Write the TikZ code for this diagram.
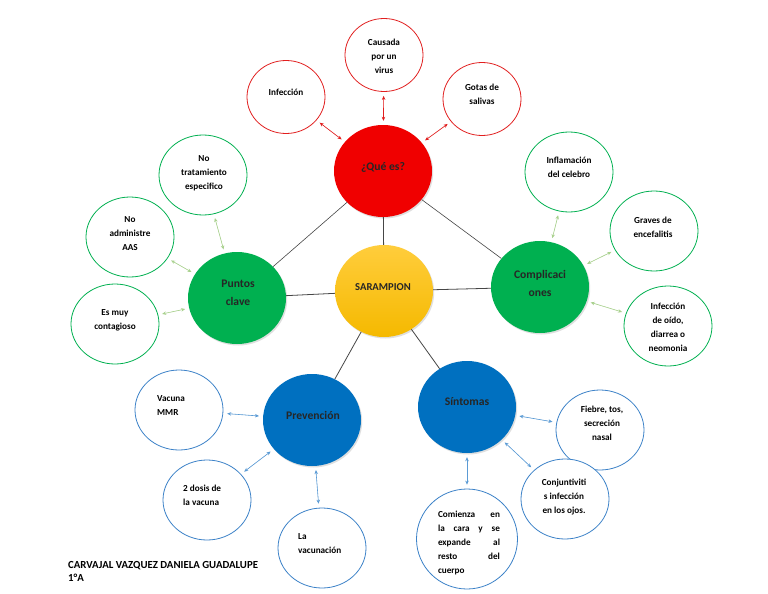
\documentclass[tikz,border=0pt]{standalone}
\usepackage{fontspec}
\setmainfont{Carlito}
\usetikzlibrary{shapes.geometric,arrows.meta,shadows}
\definecolor{qred}{RGB}{240,0,0}
\definecolor{qgreen}{RGB}{0,176,80}
\definecolor{qblue}{RGB}{0,112,192}
\definecolor{sblue}{RGB}{60,130,200}
\definecolor{ablue}{RGB}{91,155,213}
\definecolor{agreen}{RGB}{169,209,142}
\definecolor{sred}{RGB}{225,30,30}
\definecolor{yel1}{RGB}{255,205,60}
\definecolor{yel2}{RGB}{245,185,0}
\definecolor{linkgray}{RGB}{70,70,70}
\begin{document}
\begin{tikzpicture}[x=1pt,y=-1pt,
  main/.style={ellipse,minimum width=98pt,minimum height=92pt,inner sep=0pt,draw=none,
    drop shadow={opacity=0.25,shadow xshift=1.2pt,shadow yshift=-1.5pt}},
  sat/.style={ellipse,minimum width=88pt,minimum height=80pt,inner sep=0pt,fill=white,line width=0.8pt},
  redsat/.style={sat,draw=sred,minimum width=78pt,minimum height=73pt},
  greensat/.style={sat,draw=qgreen},
  bluesat/.style={sat,draw=sblue},
  maintext/.style={font=\bfseries\fontsize{11.6}{18}\selectfont,text=black!85,align=center,inner sep=0pt},
  sattext/.style={font=\bfseries\fontsize{9.2}{14}\selectfont,text=black,align=center,inner sep=0pt},
  satleft/.style={sattext,align=left,anchor=west},
  link/.style={draw=linkgray,line width=0.8pt},
  duo/.style={line width=0.6pt,shorten <=4pt,shorten >=4pt,{Stealth[length=4pt,width=3.5pt]}-{Stealth[length=4pt,width=3.5pt]}},
  rarr/.style={duo,draw=sred,fill=sred},
  garr/.style={duo,draw=agreen,fill=agreen},
  barr/.style={duo,draw=ablue,fill=ablue}
]
\useasboundingbox (0,0) rectangle (768,594);
\fill[white] (0,0) rectangle (768,594);

% satellites
\node[redsat] (inf) at (286,97) {};
\node[redsat] (cau) at (384,55) {};
\node[redsat] (got) at (482,99) {};
\node[greensat] (trat) at (203,175) {};
\node[greensat] (aas) at (130,237) {};
\node[greensat] (cont) at (115,324) {};
\node[greensat] (infl) at (569,172) {};
\node[greensat] (grav) at (654,231) {};
\node[greensat] (oido) at (668,326) {};
\node[bluesat] (mmr) at (179,410) {};
\node[bluesat] (dos) at (207,500) {};
\node[bluesat] (vac) at (322,548) {};
\node[bluesat] (fie) at (600,430) {};
\node[bluesat] (conj) at (565,499) {};
\node[bluesat,minimum width=101pt,minimum height=100pt] (comi) at (467,539) {};

% main circles
\node[main,fill=qred] (que) at (383,171) {};
\node[main,top color=yel1,bottom color=yel2] (sar) at (384,291) {};
\node[main,fill=qgreen] (pun) at (237,298) {};
\node[main,fill=qgreen] (com) at (540,287) {};
\node[main,fill=qblue] (pre) at (312,420) {};
\node[main,fill=qblue] (sin) at (467,407) {};

% links
\draw[link] (sar) -- (que);
\draw[link] (sar) -- (pun);
\draw[link] (sar) -- (com);
\draw[link] (sar) -- (pre);
\draw[link] (sar) -- (sin);
\draw[link,line width=0.6pt] (que) -- (pun);
\draw[link,line width=0.6pt] (que) -- (com);

% arrows
\draw[rarr] (inf) -- (que);
\draw[rarr] (cau) -- (que);
\draw[rarr] (got) -- (que);
\draw[garr] (trat) -- (pun);
\draw[garr] (aas) -- (pun);
\draw[garr] (cont) -- (pun);
\draw[garr] (infl) -- (com);
\draw[garr] (grav) -- (com);
\draw[garr] (oido) -- (com);
\draw[barr] (mmr) -- (pre);
\draw[barr] (dos) -- (pre);
\draw[barr] (vac) -- (pre);
\draw[barr] (fie) -- (sin);
\draw[barr] (conj) -- (sin);
\draw[barr] (comi) -- (sin);

% main labels
\node[maintext] (queT) at (383,167) {¿Qué es?};
\node[maintext,font=\bfseries\fontsize{10.6}{18}\selectfont] (sarT) at (383,287) {SARAMPION};
\node[maintext] (punT) at (238,293) {Puntos\\clave};
\node[maintext] (comT) at (540,283) {Complicaci\\ones};
\node[maintext] (preT) at (313,415) {Prevención};
\node[maintext] (sinT) at (467,402) {Síntomas};

% satellite labels
\node[sattext] (infT) at (286,92) {Infección};
\node[sattext] (cauT) at (384,56) {Causada\\por un\\virus};
\node[sattext] (gotT) at (482,94) {Gotas de\\salivas};
\node[sattext] (tratT) at (204,173) {No\\tratamiento\\especifico};
\node[sattext] (aasT) at (130,234) {No\\administre\\AAS};
\node[sattext] (contT) at (115,320) {Es muy\\contagioso};
\node[sattext] (inflT) at (569,167) {Inflamación\\del celebro};
\node[sattext] (gravT) at (653,227) {Graves de\\encefalitis};
\node[sattext] (oidoT) at (668,327) {Infección\\de oído,\\diarrea o\\neomonia};
\node[satleft] (mmrT) at (157,406) {Vacuna\\MMR};
\node[satleft] (dosT) at (183,495) {2 dosis de\\la vacuna};
\node[satleft] (vacT) at (298,544) {La\\vacunación};
\node[sattext] (fieT) at (602,423) {Fiebre, tos,\\secreción\\nasal};
\node[sattext] (conjT) at (564,497) {Conjuntiviti\\s infección\\en los ojos.};
\node[sattext] (comiT) at (469,543) {\hbox to 62pt{Comienza\hfill en}\\\hbox to 62pt{la\hfill cara\hfill y\hfill se}\\\hbox to 62pt{expande\hfill al}\\\hbox to 62pt{resto\hfill del}\\\hbox to 62pt{cuerpo\hfill}};

% author
\node[font=\bfseries\fontsize{10.8}{13}\selectfont,align=left,anchor=west,inner sep=0pt] (autor) at (68,571) {CARVAJAL VAZQUEZ DANIELA GUADALUPE\\1°A};
\end{tikzpicture}
\end{document}
